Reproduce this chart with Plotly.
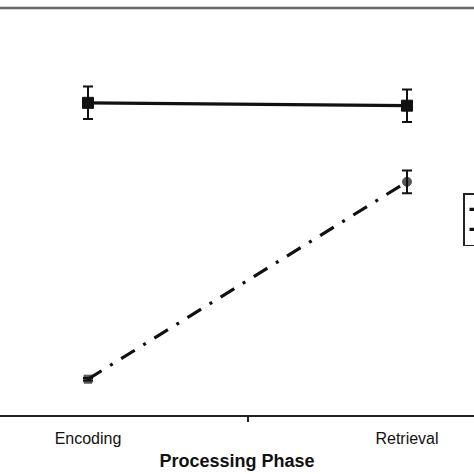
import plotly.graph_objects as go

# Data (y in arbitrary units of the hidden y-axis)
phases = ["Encoding", "Retrieval"]
phase_pos = [0, 1]
series_a_name = "Condition A"
series_a = [76.7, 76.0]
series_a_err = [4.0, 4.0]
series_b_name = "Condition B"
series_b = [8.8, 57.3]
series_b_err = [0.3, 2.8]
boundary_tick = [0.5]

fig = go.Figure()

fig.add_trace(go.Scatter(
    x=phase_pos, y=series_a, name=series_a_name, mode="lines+markers",
    line=dict(color="#111111", width=3.2),
    marker=dict(symbol="square", size=11, color="#111111",
                line=dict(color="#111111", width=1)),
    error_y=dict(type="data", array=series_a_err, color="#111111", thickness=2, width=5),
))
fig.add_trace(go.Scatter(
    x=phase_pos, y=series_b, name=series_b_name, mode="lines+markers",
    line=dict(color="#111111", width=3.2, dash="16px,10px,3px,10px"),
    marker=dict(symbol=["square", "circle"], size=[8, 9], color="#111111",
                line=dict(color="#111111", width=1)),
    error_y=dict(type="data", array=series_b_err, color="#111111", thickness=2, width=5),
))

fig.update_layout(
    width=474, height=474,
    margin=dict(l=0, r=0, t=8, b=59, autoexpand=False),
    paper_bgcolor="white", plot_bgcolor="white",
    font=dict(family="Liberation Sans, Arial, sans-serif", color="#111111"),
    showlegend=True,
    legend=dict(
        x=463 / 474, xanchor="left", y=(415 - 193) / 407, yanchor="top",
        bordercolor="#222222", borderwidth=1.5, bgcolor="white",
        font=dict(size=13),
    ),
    xaxis=dict(
        range=[-88 / 319, 1 + 67 / 319],
        tickmode="array", tickvals=phase_pos, ticktext=phases,
        ticks="", showgrid=False, zeroline=False,
        showline=True, linecolor="#222222", linewidth=1.5,
        tickfont=dict(size=16), ticklabelstandoff=8,
        minor=dict(tickmode="array", tickvals=boundary_tick, ticks="outside",
                   ticklen=5, tickwidth=1.5, tickcolor="#222222", showgrid=False),
        title=dict(text="<b>Processing Phase</b>", font=dict(size=18), standoff=8),
    ),
    yaxis=dict(
        range=[0, 100], showticklabels=False, ticks="", showgrid=False,
        zeroline=False, showline=False,
    ),
    shapes=[dict(type="line", xref="paper", yref="paper", x0=0, x1=1, y0=1, y1=1,
                 line=dict(color="#666666", width=2.5))],
)

fig.write_html("out.html")
